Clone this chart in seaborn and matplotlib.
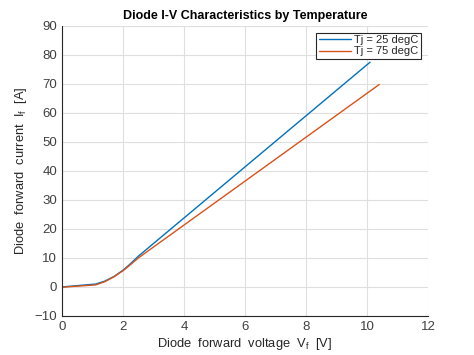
import numpy as np
import pandas as pd
import matplotlib
matplotlib.use("Agg")
import matplotlib.pyplot as plt
import seaborn as sns

# diode forward characteristic
vf_25 = [0.0, 1.1, 1.4, 1.7, 2.0, 2.2, 2.5, 10.1]
if_25 = [0.0, 1.0, 2.0, 3.6, 5.8, 7.6, 10.6, 77.5]
vf_75 = [0.0, 1.1, 1.4, 1.7, 2.0, 2.2, 2.5, 10.4]
if_75 = [-0.1, 0.7, 1.8, 3.5, 5.6, 7.3, 10.0, 69.8]
labels = ["Tj = 25 degC", "Tj = 75 degC"]
colors = ["#0072BD", "#D95319"]

df = pd.concat([
    pd.DataFrame({"Vf": vf_25, "If": if_25, "Tj": labels[0]}),
    pd.DataFrame({"Vf": vf_75, "If": if_75, "Tj": labels[1]}),
])

sns.set_style("white")
plt.rcParams['font.family'] = ['Liberation Sans', 'DejaVu Sans']
plt.rcParams['mathtext.fontset'] = 'custom'
plt.rcParams['mathtext.rm'] = 'Liberation Sans'
plt.rcParams['mathtext.it'] = 'Liberation Sans'

fig = plt.figure(figsize=(4.74, 3.55), dpi=100)
ax = fig.add_axes([0.131, 0.110, 0.772, 0.817])
sns.lineplot(data=df, x="Vf", y="If", hue="Tj", palette=colors, sort=False,
             estimator=None, linewidth=1.0, ax=ax)

ax.set_xlim(0, 12)
ax.set_ylim(-10, 90)
ax.set_xticks(np.arange(0, 13, 2))
ax.set_yticks(np.arange(-10, 91, 10))
ax.grid(True, color="#dfdfdf", linewidth=0.8)
ax.set_axisbelow(True)
for s in ["top", "right"]:
    ax.spines[s].set_visible(False)
for s in ["left", "bottom"]:
    ax.spines[s].set_color("#262626")
    ax.spines[s].set_linewidth(0.8)
ax.tick_params(direction="in", length=3, width=0.8, colors="#262626",
               labelsize=9.5, labelcolor="#404040")

ax.set_xlabel("Diode  forward  voltage  V$_\\mathrm{f}$  [V]", fontsize=9.3, color="#262626", labelpad=2)
ax.set_ylabel("Diode  forward  current  I$_\\mathrm{f}$  [A]", fontsize=9.3, color="#262626", labelpad=4)
ax.set_title("Diode I-V Characteristics by Temperature", fontsize=9, fontweight="bold", color="black", pad=5)

leg = ax.legend(loc="upper right", fontsize=8, frameon=True, fancybox=False,
                edgecolor="#262626", framealpha=1, borderpad=0.25, labelspacing=0.1,
                handlelength=2.9, handletextpad=0.3, borderaxespad=0.6)
leg.get_frame().set_linewidth(0.8)

fig.savefig("out.png", dpi=100, facecolor="white")
